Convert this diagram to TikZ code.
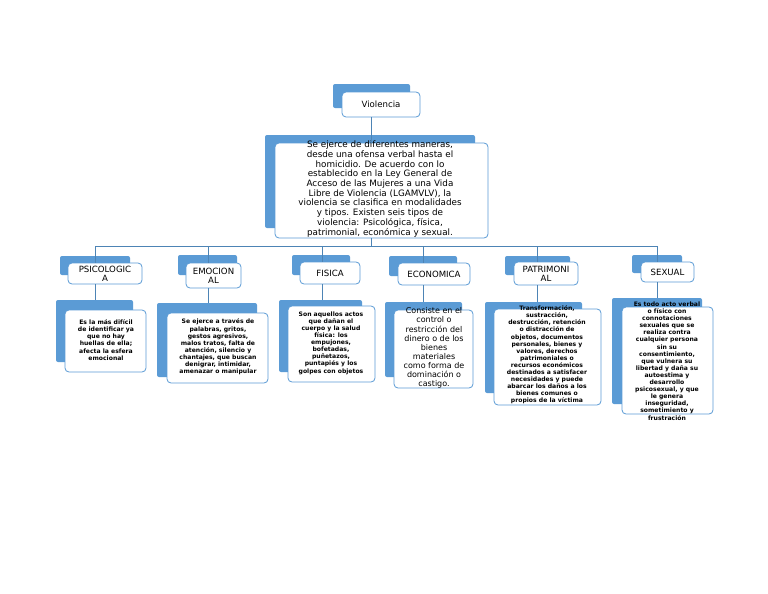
\documentclass[tikz,border=0pt]{standalone}
\usepackage{fontspec}
\setmainfont{DejaVu Sans}
\definecolor{bl}{RGB}{91,155,213}
\begin{document}
\begin{tikzpicture}[x=1pt,y=-1pt,
  back/.style={fill=bl, draw=none, rounded corners=2pt},
  front/.style={fill=white, draw=bl, line width=0.8pt, rounded corners=4pt},
  ln/.style={draw=bl!85!black, line width=0.6pt},
  hd/.style={font=\fontsize{8.6}{9}\selectfont, align=center, inner sep=0pt},
  bd/.style={font=\bfseries\fontsize{6.1}{7.1}\selectfont, align=center, inner sep=0pt}]
\useasboundingbox[fill=white] (0,0) rectangle (768,594);
% Violencia
\fill[back] (333,84) rectangle (410,108);
\draw[front] (342,92) rectangle (420,117);
\node[hd] (v) at (381,104) {Violencia};
% description
\fill[back] (265,135) rectangle (475,228);
\draw[front] (275,143) rectangle (488,238);
\node[font=\fontsize{8.8}{9.7}\selectfont, align=center, inner sep=0pt] (d) at (380,189) {Se ejerce de diferentes maneras,\\desde una ofensa verbal hasta el\\homicidio. De acuerdo con lo\\establecido en la Ley General de\\Acceso de las Mujeres a una Vida\\Libre de Violencia (LGAMVLV), la\\violencia se clasifica en modalidades\\y tipos. Existen seis tipos de\\violencia: Psicológica, física,\\patrimonial, económica y sexual.};
\coordinate (v1) at (371,117); \coordinate (d0) at (371,143);
\coordinate (d1) at (371,238); \coordinate (h) at (371,246);
\draw[ln] (v1) -- (d0); \draw[ln] (d1) -- (h);
\coordinate (hl) at (95,246); \coordinate (hr) at (657,246);
\draw[ln] (hl) -- (hr);
\foreach \n/\a/\b/\c/\d/\e/\f/\g/\h/\t/\xl/\dt in {
 p/60/256/130/275/68/263/142/284/{PSICOLOGIC\\A}/95/310,
 e/178/255/237/275/186/263/241/288/{EMOCION\\AL}/208/313,
 f/292/255/350/275/300/262/360/284/{FISICA}/322/306,
 c/389/256/457/276/398/263/470/285/{ECONOMICA}/423/310,
 t/505/256/570/275/514/262/578/285/{PATRIMONI\\AL}/537/309,
 s/632/255/682/273/641/262/694/282/{SEXUAL}/657/307}{
 \fill[back] (\a,\b) rectangle (\c,\d);
 \draw[front] (\e,\f) rectangle (\g,\h);
 \node[hd] (h\n) at ({(\e+\g)/2},{(\f+\h)/2}) {\t};
 \draw[ln] (\xl,246) -- (\xl,\f);
 \draw[ln] (\xl,\h) -- (\xl,\dt);
}
\fill[back] (56,300) rectangle (133,362); \draw[front] (65,310) rectangle (146,372);
\node[bd] (bp) at (106,340) {Es la más difícil\\de identificar ya\\que no hay\\huellas de ella;\\afecta la esfera\\emocional};
\fill[back] (157,303) rectangle (257,377); \draw[front] (167,313) rectangle (268,383);
\node[bd] (be) at (218,347) {Se ejerce a través de\\palabras, gritos,\\gestos agresivos,\\malos tratos, falta de\\atención, silencio y\\chantajes, que buscan\\denigrar, intimidar,\\amenazar o manipular};
\fill[back] (279,300) rectangle (362,372); \draw[front] (288,306) rectangle (375,382);
\node[bd] (bf) at (331,343) {Son aquellos actos\\que dañan el\\cuerpo y la salud\\física: los\\empujones,\\bofetadas,\\puñetazos,\\puntapiés y los\\golpes con objetos};
\fill[back] (385,302) rectangle (462,377); \draw[front] (394,310) rectangle (473,388);
\node[font=\fontsize{8}{9.1}\selectfont, align=center, inner sep=0pt] (bc) at (434,348) {Consiste en el\\control o\\restricción del\\dinero o de los\\bienes\\materiales\\como forma de\\dominación o\\castigo.};
\fill[back] (485,302) rectangle (582,393); \draw[front] (494,309) rectangle (601,405);
\node[bd] (bt) at (547,355) {Transformación,\\sustracción,\\destrucción, retención\\o distracción de\\objetos, documentos\\personales, bienes y\\valores, derechos\\patrimoniales o\\recursos económicos\\destinados a satisfacer\\necesidades y puede\\abarcar los daños a los\\bienes comunes o\\propios de la víctima};
\fill[back] (612,298) rectangle (702,404); \draw[front] (622,307) rectangle (713,414);
\node[bd] (bs) at (667,361) {Es todo acto verbal\\o físico con\\connotaciones\\sexuales que se\\realiza contra\\cualquier persona\\sin su\\consentimiento,\\que vulnera su\\libertad y daña su\\autoestima y\\desarrollo\\psicosexual, y que\\le genera\\inseguridad,\\sometimiento y\\frustración};
\end{tikzpicture}
\end{document}
